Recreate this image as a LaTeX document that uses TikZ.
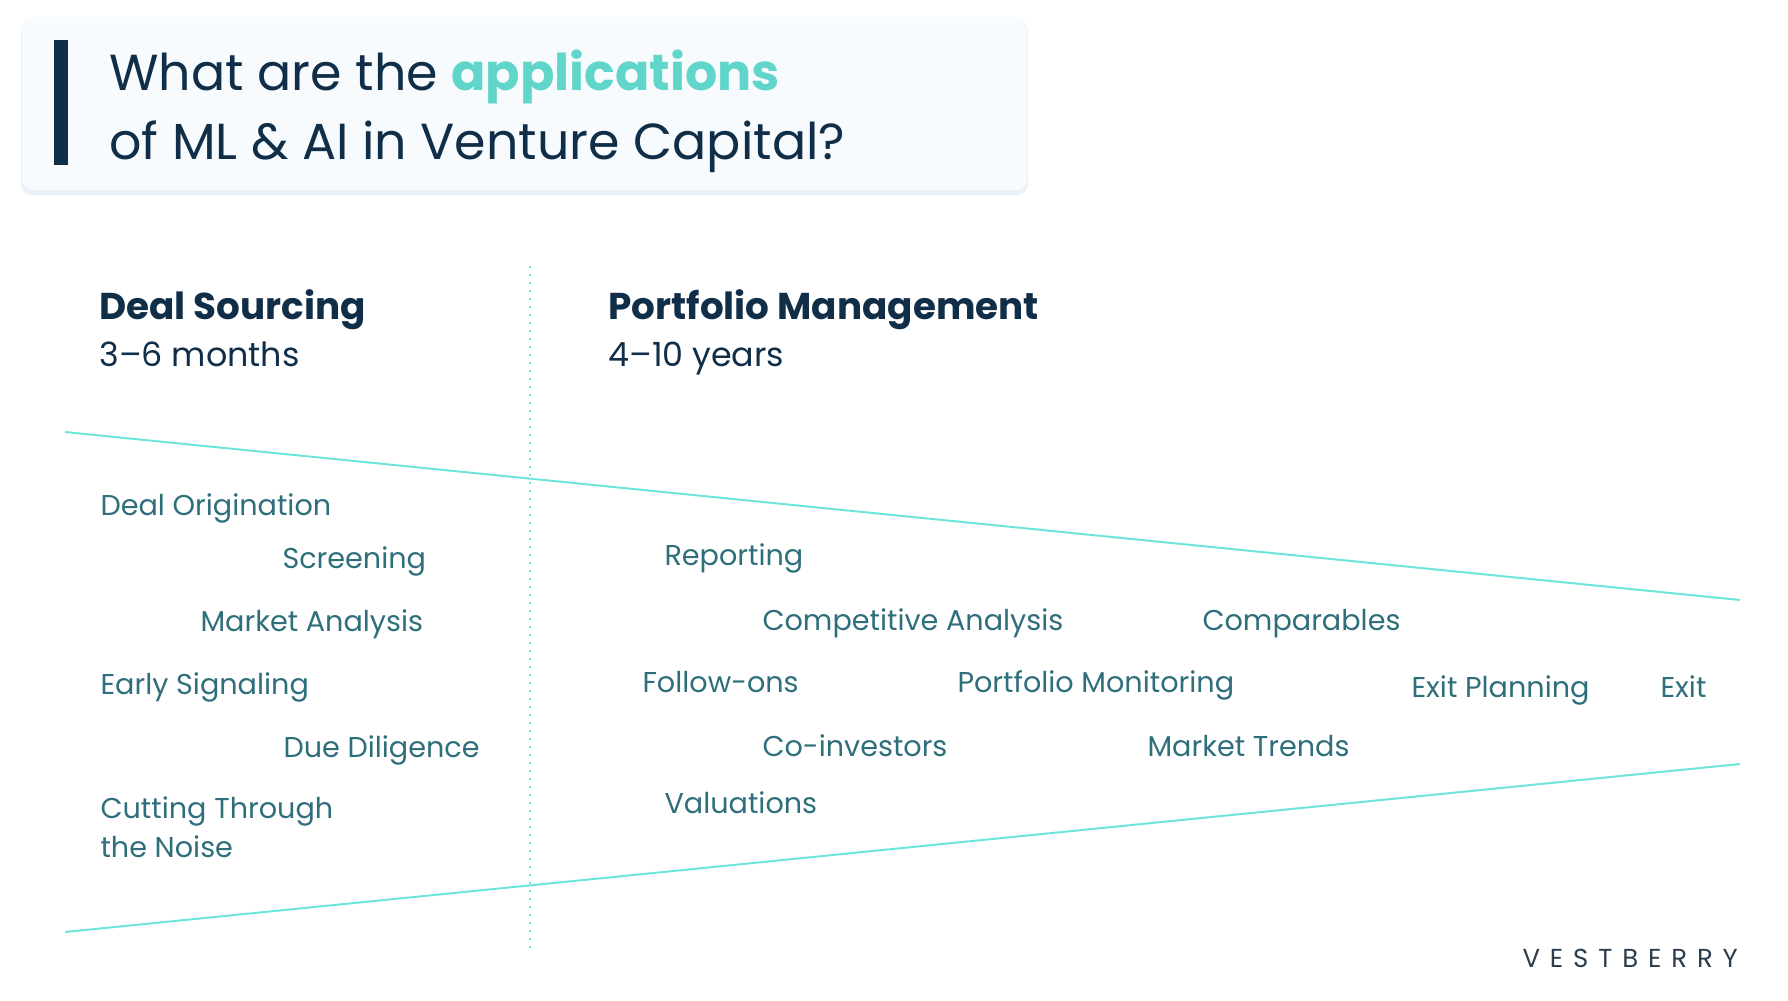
\documentclass[tikz,border=0pt]{standalone}
\usepackage{fontspec}
\setmainfont{Poppins}
\definecolor{navy}{RGB}{17,46,72}
\definecolor{accent}{RGB}{95,214,201}
\definecolor{lineteal}{RGB}{110,229,218}
\definecolor{itemteal}{RGB}{47,110,123}
\definecolor{boxbg}{RGB}{248,251,253}
\definecolor{boxshadow}{RGB}{234,241,248}
\definecolor{brandgray}{RGB}{44,61,80}
\tikzset{every picture/.style={line width=0.75pt}}
\tikzset{
  item/.style={anchor=base west, inner sep=0pt, text=itemteal, font=\fontsize{21.5}{29}\selectfont, align=left},
  header/.style={anchor=base west, inner sep=0pt, text=navy, font=\fontsize{28}{34}\selectfont\bfseries},
  period/.style={anchor=base west, inner sep=0pt, text=navy, font=\fontsize{25}{30}\selectfont},
  tline/.style={color=lineteal, line width=1.5pt}
}

\begin{document}
\begin{tikzpicture}[x=0.75pt,y=0.75pt,yscale=-1,xscale=1]
\useasboundingbox (0,0) rectangle (1788,1000);

%Shape: Title box
\fill [boxshadow, rounded corners=8] (21,20) rectangle (1028,195) ;
\fill [boxbg, rounded corners=8] (22,17) rectangle (1027,190) ;
\fill [navy] (54,40) rectangle (68,165) ;

% Text Node
\node (title) [anchor=base west, inner sep=0pt, text=navy, font=\fontsize{38}{46}\selectfont] at (109,90) {What are the \textcolor{accent}{\bfseries applications}};
% Text Node
\node (titleb) [anchor=base west, inner sep=0pt, text=navy, font=\fontsize{38}{46}\selectfont] at (109,159) {of ML \& AI in Venture Capital?};

%Straight Lines: divider
\draw [color=lineteal, line width=1.5pt, dash pattern=on 1.5pt off 4.5pt] (530,266) -- (530,948) ;
%Straight Lines: funnel
\draw [tline] (65,432) -- (1740,600) ;
\draw [tline] (65,932) -- (1740,764) ;

% Text Node
\node (dealhd) [header] at (99,319) {Deal Sourcing};
\node (dealtime) [period] at (99,366) {3–6 months};
\node (porthd) [header] at (608,319) {Portfolio Management};
\node (porttime) [period] at (608,366) {4–10 years};

% Deal sourcing items
\node (orig) [item] at (100,515) {Deal Origination};
\node (screen) [item] at (282,568) {Screening};
\node (mktan) [item] at (200,631) {Market Analysis};
\node (early) [item] at (100,694) {Early Signaling};
\node (due) [item] at (283,757) {Due Diligence};
\node (cut) [item] at (100,857) {Cutting Through\\the Noise};

% Portfolio items
\node (report) [item] at (664,565) {Reporting};
\node (compan) [item] at (762,630) {Competitive Analysis};
\node (compar) [item] at (1202,630) {Comparables};
\node (follow) [item] at (642,692) {Follow-ons};
\node (monitor) [item] at (957,692) {Portfolio Monitoring};
\node (exitplan) [item] at (1411,697) {Exit Planning};
\node (exit) [item] at (1660,697) {Exit};
\node (coinv) [item] at (762,756) {Co-investors};
\node (trends) [item] at (1147,756) {Market Trends};
\node (valu) [item] at (664,813) {Valuations};

% Text Node
\node (brand) [anchor=base west, inner sep=0pt, text=brandgray, font=\fontsize{19.5}{24}\selectfont\addfontfeature{LetterSpace=38}] at (1522,967) {VESTBERRY};

\end{tikzpicture}
\end{document}
